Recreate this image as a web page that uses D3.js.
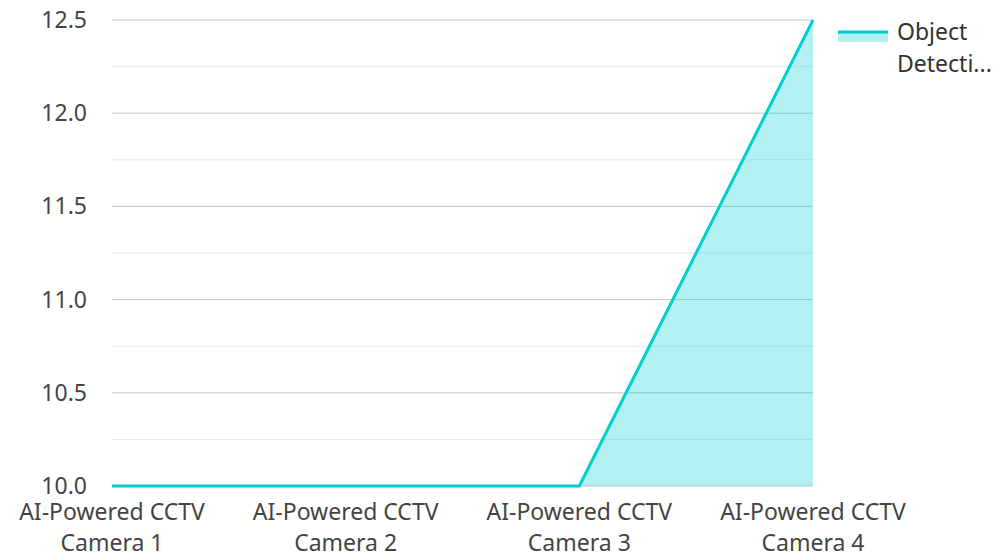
<!DOCTYPE html>
<html>
<head>
<meta charset="utf-8">
<script src="https://cdn.jsdelivr.net/npm/d3@7"></script>
<style>
  body { margin: 0; background: #fff; }
  text { font-family: "Noto Sans", "Open Sans", sans-serif; }
</style>
</head>
<body>
<div id="chart"></div>
<script>
var categories = ["AI-Powered CCTV Camera 1", "AI-Powered CCTV Camera 2", "AI-Powered CCTV Camera 3", "AI-Powered CCTV Camera 4"];
var seriesName = "Object Detection";
var values = [10, 10, 10, 12.5];
var yTicks = [10.0, 10.5, 11.0, 11.5, 12.0, 12.5];
var yMinor = [10.25, 10.75, 11.25, 11.75, 12.25];

(function() {
  var width = 1000, height = 560;
  var plotLeft = 112, plotRight = 813, plotTop = 20, plotBottom = 486;
  var lineColor = "#00ced1";
  var fontSize = "23px";

  var svg = d3.select("#chart").append("svg")
      .attr("width", width)
      .attr("height", height);

  var x = d3.scalePoint()
      .domain(categories)
      .range([plotLeft, plotRight]);

  var y = d3.scaleLinear()
      .domain([10, 12.5])
      .range([plotBottom, plotTop]);

  // grid
  svg.append("g").selectAll("line")
      .data(yMinor)
    .enter().append("line")
      .attr("x1", plotLeft).attr("x2", plotRight)
      .attr("y1", function(d) { return y(d); })
      .attr("y2", function(d) { return y(d); })
      .style("stroke", "#e8e8e8")
      .style("stroke-width", 1);

  svg.append("g").selectAll("line")
      .data(yTicks)
    .enter().append("line")
      .attr("x1", plotLeft).attr("x2", plotRight)
      .attr("y1", function(d) { return y(d); })
      .attr("y2", function(d) { return y(d); })
      .style("stroke", "#c8c8c8")
      .style("stroke-width", 1);

  // y labels
  svg.append("g").selectAll("text")
      .data(yTicks)
    .enter().append("text")
      .attr("x", 87)
      .attr("y", function(d) { return y(d); })
      .attr("dy", "0.35em")
      .attr("text-anchor", "end")
      .style("font-size", fontSize)
      .style("fill", "#444")
      .text(function(d) { return d.toFixed(1); });

  // x labels, two lines each
  var xl = svg.append("g").selectAll("text")
      .data(categories)
    .enter().append("text")
      .attr("text-anchor", "middle")
      .style("font-size", fontSize)
      .style("fill", "#444");
  xl.append("tspan")
      .attr("x", function(d) { return x(d); })
      .attr("y", 520)
      .text(function(d) { return d.replace(/ Camera \d+$/, ""); });
  xl.append("tspan")
      .attr("x", function(d) { return x(d); })
      .attr("y", 551)
      .text(function(d) { return d.match(/Camera \d+$/)[0]; });

  // area + line
  var pts = categories.map(function(c, i) { return [c, values[i]]; });

  svg.append("path")
      .datum(pts)
      .attr("d", d3.area()
          .x(function(d) { return x(d[0]); })
          .y0(y(10))
          .y1(function(d) { return y(d[1]); }))
      .style("fill", lineColor)
      .style("fill-opacity", 0.3);

  svg.append("path")
      .datum(pts)
      .attr("d", d3.line()
          .x(function(d) { return x(d[0]); })
          .y(function(d) { return y(d[1]); }))
      .style("fill", "none")
      .style("stroke", lineColor)
      .style("stroke-width", 3);

  // legend
  var lg = svg.append("g");
  lg.append("rect")
      .attr("x", 838).attr("y", 31)
      .attr("width", 50).attr("height", 11)
      .style("fill", lineColor)
      .style("fill-opacity", 0.3);
  lg.append("line")
      .attr("x1", 838).attr("x2", 888)
      .attr("y1", 32).attr("y2", 32)
      .style("stroke", lineColor)
      .style("stroke-width", 3);
  var lt = lg.append("text")
      .style("font-size", fontSize)
      .style("fill", "#333");
  lt.append("tspan").attr("x", 897).attr("y", 40).text("Object");
  lt.append("tspan").attr("x", 897).attr("y", 72).text("Detecti...");
})();
</script>
</body>
</html>
